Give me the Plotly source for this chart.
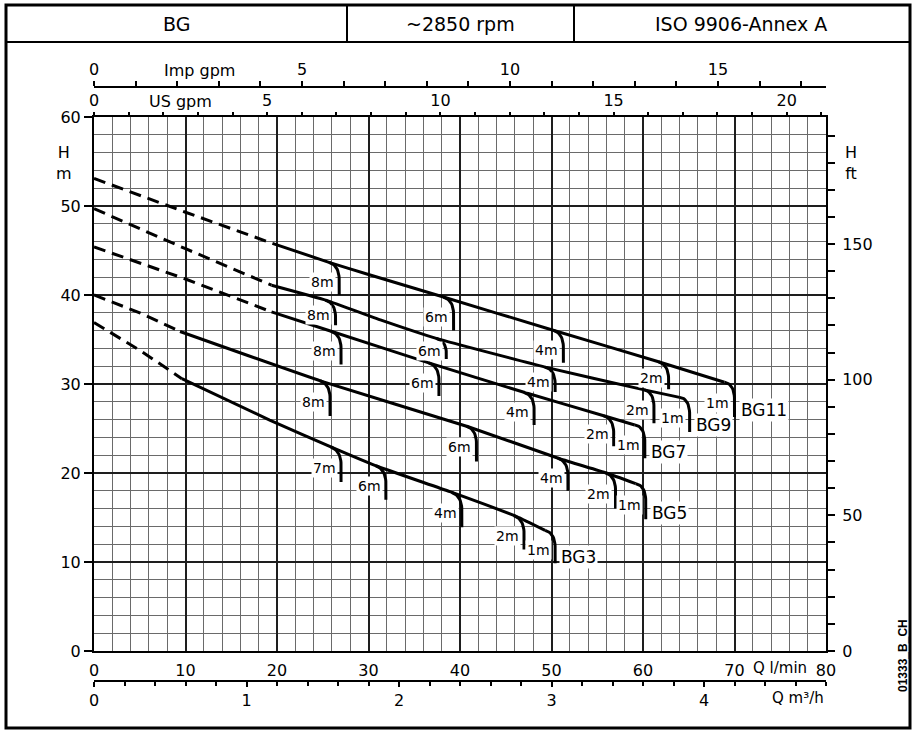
import numpy as np
import plotly.graph_objects as go

# ------------------------------------------------------------------ data
# Flow in l/min, head in m
BG11_DASH_Q = [0, 10, 19.5]
BG11_DASH_H = [53.1, 49.3, 45.8]
BG11_Q = [19.5, 25.6, 30, 38.1, 50, 61.7, 68.9]
BG11_H = [45.8, 43.7, 42.3, 39.8, 36.1, 32.5, 30.2]
BG11_NPSH = ["8m", "6m", "4m", "2m", "1m"]
BG11_NPSH_Q = [26.8, 39.3, 51.3, 62.8, 70.0]
BG11_NPSH_H = [40.0, 36.0, 32.4, 29.4, 26.3]

BG9_DASH_Q = [0, 10, 19.4]
BG9_DASH_H = [49.7, 45.2, 41.1]
BG9_Q = [19.4, 25.4, 31.3, 37.5, 49.3, 59.9, 64.0]
BG9_H = [41.1, 39.4, 37.2, 35.1, 31.9, 29.4, 28.5]
BG9_NPSH = ["8m", "6m", "4m", "2m", "1m"]
BG9_NPSH_Q = [26.4, 38.5, 50.4, 61.2, 65.1]
BG9_NPSH_H = [36.6, 32.8, 29.1, 25.6, 24.6]

BG7_DASH_Q = [0, 10, 19.4]
BG7_DASH_H = [45.4, 41.8, 38.1]
BG7_Q = [19.4, 26.0, 36.5, 46.9, 55.8, 59.1]
BG7_H = [38.1, 35.9, 32.4, 29.1, 26.4, 25.4]
BG7_NPSH = ["8m", "6m", "4m", "2m", "1m"]
BG7_NPSH_Q = [27.0, 37.7, 48.1, 56.8, 60.2]
BG7_NPSH_H = [32.2, 28.65, 25.4, 23.0, 21.65]

BG5_DASH_Q = [0, 5, 9.4]
BG5_DASH_H = [40.0, 38.0, 35.9]
BG5_Q = [9.4, 24.9, 40.9, 50.9, 56.0, 59.2]
BG5_H = [35.9, 30.3, 25.2, 21.6, 20.0, 18.8]
BG5_NPSH = ["8m", "6m", "4m", "2m", "1m"]
BG5_NPSH_Q = [25.8, 41.8, 51.8, 57.0, 60.3]
BG5_NPSH_H = [26.4, 21.3, 18.0, 16.0, 14.8]

BG3_DASH_Q = [0, 5, 9.6]
BG3_DASH_H = [36.9, 33.8, 30.6]
BG3_Q = [9.6, 19.2, 26.2, 31.1, 38.9, 46.2, 49.3]
BG3_H = [30.6, 25.95, 22.8, 20.7, 17.9, 15.1, 13.55]
BG3_NPSH = ["7m", "6m", "4m", "2m", "1m"]
BG3_NPSH_Q = [27.0, 31.9, 40.2, 47.0, 50.4]
BG3_NPSH_H = [19.0, 17.0, 13.9, 11.4, 9.85]

SERIES_NAMES = ["BG11", "BG9", "BG7", "BG5", "BG3"]

X_TICKS_LMIN = [0, 10, 20, 30, 40, 50, 60, 70, 80]
Y_TICKS_M = [0, 10, 20, 30, 40, 50, 60]
FT_LABELS = [0, 50, 100, 150]

HEADER = ["BG", "~2850 rpm", "ISO 9906-Annex A"]
SIDE_CODE = "01333_B_CH"

# unit conversions
LMIN_PER_USGPM = 3.785411784
LMIN_PER_IMPGPM = 4.54609
M3H_PER_LMIN = 0.06
M_PER_FT = 0.3048

# ------------------------------------------------------------------ style
FONT = "DejaVu Sans"
W, H = 917, 735
PL, PR, PT, PB = 94, 826, 87, 681        # paper box in pixels
PLOT_TOP, PLOT_BOT = 117, 651             # plot area in pixels
MAJ = "#1e1e1e"
MIN = "#6a6a6a"
HOOK_DQ = 1.1
HOOK_R = 2.0


def pa(px, py):
    return (px - PL) / (PR - PL), (PB - py) / (PB - PT)


series = [
    (BG11_DASH_Q, BG11_DASH_H, BG11_Q, BG11_H, BG11_NPSH, BG11_NPSH_Q, BG11_NPSH_H),
    (BG9_DASH_Q, BG9_DASH_H, BG9_Q, BG9_H, BG9_NPSH, BG9_NPSH_Q, BG9_NPSH_H),
    (BG7_DASH_Q, BG7_DASH_H, BG7_Q, BG7_H, BG7_NPSH, BG7_NPSH_Q, BG7_NPSH_H),
    (BG5_DASH_Q, BG5_DASH_H, BG5_Q, BG5_H, BG5_NPSH, BG5_NPSH_Q, BG5_NPSH_H),
    (BG3_DASH_Q, BG3_DASH_H, BG3_Q, BG3_H, BG3_NPSH, BG3_NPSH_Q, BG3_NPSH_H),
]

fig = go.Figure()
annotations = []

for name, (dq, dh, sq, sh, labs, nq, nh) in zip(SERIES_NAMES, series):
    fig.add_trace(go.Scatter(x=dq, y=dh, mode="lines", hoverinfo="skip",
                             line=dict(color="black", width=3, dash="12px,7px")))
    fig.add_trace(go.Scatter(x=sq, y=sh, mode="lines", hoverinfo="skip",
                             line=dict(color="black", width=3, shape="spline", smoothing=0.4)))
    allq = np.array(dq + sq[1:], dtype=float)
    allh = np.array(dh + sh[1:], dtype=float)
    hx, hy = [], []
    for lab, qv, hb_ in zip(labs, nq, nh):
        qb = qv - HOOK_DQ
        hb = float(np.interp(qb, allq, allh))
        s = (np.interp(qb + 0.5, allq, allh) - np.interp(qb - 0.5, allq, allh)) / 1.0
        r = min(HOOK_R, 0.7 * (hb - hb_))
        t = np.linspace(0, 1, 14)
        p0 = np.array([qb, hb])
        p1 = np.array([qv, hb + s * (qv - qb)])
        p2 = np.array([qv, hb - r])
        pts = ((1 - t) ** 2)[:, None] * p0 + (2 * (1 - t) * t)[:, None] * p1 + (t ** 2)[:, None] * p2
        hx += list(pts[:, 0]) + [qv, None]
        hy += list(pts[:, 1]) + [hb_, None]
        annotations.append(dict(x=qv - 0.35, y=hb_ + 0.4 * (hb - hb_), xref="x", yref="y",
                                text=lab, xanchor="right", yanchor="middle", showarrow=False,
                                bgcolor="white", borderpad=1,
                                font=dict(size=14, family=FONT, color="black")))
    fig.add_trace(go.Scatter(x=hx, y=hy, mode="lines", hoverinfo="skip",
                             line=dict(color="black", width=3)))
    annotations.append(dict(x=nq[-1] + 0.45, y=nh[-1] + 0.75, xref="x", yref="y",
                            text=name, xanchor="left", yanchor="middle", showarrow=False,
                            bgcolor="white", borderpad=1,
                            font=dict(size=17, family=FONT, color="black")))

# invisible anchor traces for the secondary axes
for xa, ya in [("x2", "y"), ("x3", "y"), ("x4", "y"), ("x", "y2")]:
    fig.add_trace(go.Scatter(x=[0], y=[0], xaxis=xa, yaxis=ya, mode="markers",
                             marker=dict(opacity=0), hoverinfo="skip"))

ydom = [(PB - PLOT_BOT) / (PB - PT), (PB - PLOT_TOP) / (PB - PT)]
tickfont = dict(family=FONT, size=16, color="black")

fig.update_layout(
    width=W, height=H,
    margin=dict(l=PL, r=W - PR, t=PT, b=H - PB, pad=0),
    paper_bgcolor="white", plot_bgcolor="white", showlegend=False,
    font=dict(family=FONT, size=16, color="black"),
    xaxis=dict(range=[0, 80], domain=[0, 1], anchor="y", tickvals=X_TICKS_LMIN,
               ticks="", tickfont=tickfont, ticklabelstandoff=4,
               showgrid=True, gridcolor=MAJ, gridwidth=2,
               minor=dict(dtick=2, showgrid=True, gridcolor=MIN, gridwidth=1),
               showline=True, linecolor="black", linewidth=2, mirror=True, zeroline=False),
    yaxis=dict(range=[0, 60], domain=ydom, anchor="x", tickvals=Y_TICKS_M,
               ticks="outside", ticklen=8, tickwidth=2, tickcolor="black", tickfont=tickfont,
               showgrid=True, gridcolor=MAJ, gridwidth=2,
               minor=dict(dtick=2, showgrid=True, gridcolor=MIN, gridwidth=1),
               showline=True, linecolor="black", linewidth=2, mirror=True, zeroline=False),
    yaxis2=dict(range=[0, 60 / M_PER_FT], overlaying="y", side="right", anchor="x",
                tickvals=FT_LABELS, ticks="outside", ticklen=8, tickwidth=1.5, tickcolor="black",
                minor=dict(dtick=10, ticks="outside", ticklen=8, tickwidth=1.5, tickcolor="black"),
                tickfont=tickfont, showgrid=False, zeroline=False, showline=False,
                ticklabelstandoff=4),
    xaxis2=dict(range=[0, 80 / LMIN_PER_USGPM], overlaying="x", side="top", anchor="y",
                dtick=5, tick0=0, ticks="outside", ticklen=4, tickwidth=1.5, tickcolor="black",
                minor=dict(dtick=1, ticks="outside", ticklen=4, tickwidth=1.5, tickcolor="black"),
                tickfont=tickfont, showgrid=False, zeroline=False, showline=False),
    xaxis3=dict(range=[0, 80 / LMIN_PER_IMPGPM], overlaying="x", side="top", anchor="free",
                position=1, dtick=5, tick0=0, ticks="outside", ticklen=5, tickwidth=1.5,
                tickcolor="black",
                minor=dict(dtick=1, ticks="outside", ticklen=5, tickwidth=1.5, tickcolor="black"),
                tickfont=tickfont, showgrid=False, zeroline=False,
                showline=True, linecolor="black", linewidth=2),
    xaxis4=dict(range=[0, 80 * M3H_PER_LMIN], overlaying="x", side="bottom", anchor="free",
                position=0, dtick=1, tick0=0, ticks="outside", ticklen=5, tickwidth=1.5,
                tickcolor="black",
                minor=dict(dtick=0.2, ticks="outside", ticklen=4, tickwidth=1.5, tickcolor="black"),
                tickfont=tickfont, showgrid=False, zeroline=False,
                showline=True, linecolor="black", linewidth=2),
)

# header table and frame
shapes = []
x0, y0 = pa(6, 5)
x1, y1 = pa(910, 728)
shapes.append(dict(type="rect", xref="paper", yref="paper", x0=x0, y0=y1, x1=x1, y1=y0,
                   line=dict(color="black", width=3)))
hx0, hy = pa(6, 42)
hx1, _ = pa(910, 42)
shapes.append(dict(type="line", xref="paper", yref="paper", x0=hx0, x1=hx1, y0=hy, y1=hy,
                   line=dict(color="black", width=2)))
for dpx in (347, 574):
    dx, dyt = pa(dpx, 5)
    _, dyb = pa(dpx, 42)
    shapes.append(dict(type="line", xref="paper", yref="paper", x0=dx, x1=dx, y0=dyb, y1=dyt,
                       line=dict(color="black", width=2)))


def txt(text, px, py, size=16, xanchor="center", angle=0, weight="normal", font=FONT, pad=1):
    x, y = pa(px, py)
    annotations.append(dict(x=x, y=y, xref="paper", yref="paper", text=text, showarrow=False,
                            xanchor=xanchor, yanchor="middle", textangle=angle, borderpad=pad,
                            font=dict(family=font, size=size, color="black", weight=weight)))


for t_, cx in zip(HEADER, (176, 460, 741)):
    txt(t_, cx, 24, size=19)
txt("Imp gpm", 199, 71)
txt("US gpm", 180, 101)
txt("Q l/min", 780, 668, size=15)
txt("Q m³/h", 826, 698, size=15, xanchor="right")
txt("H<br>m", 64, 163)
txt("H<br>ft", 851, 163)
txt(SIDE_CODE, 903, 656, size=12, angle=-90, weight="bold", font="Liberation Sans", pad=5)

fig.update_layout(shapes=shapes, annotations=annotations)

fig.write_html("out.html", config={"displayModeBar": False},
               post_script="document.body.style.margin='0px';")
